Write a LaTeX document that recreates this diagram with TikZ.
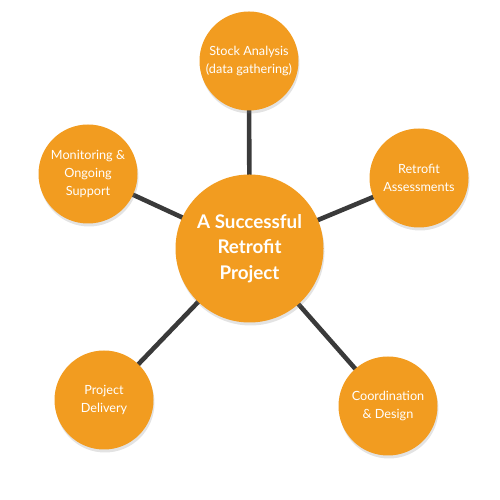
\documentclass[tikz,border=0pt]{standalone}
\usepackage{fontspec}
\setmainfont{Lato}
\usetikzlibrary{backgrounds,shadows}

\definecolor{retrofitorange}{HTML}{F29C20}
\definecolor{spokegray}{HTML}{3A3A3A}

\tikzstyle{hub} = [circle, fill=retrofitorange, minimum size=2.96cm, inner sep=0pt,
    text=white, align=center, font=\bfseries\fontsize{10.7}{14.5}\selectfont,
    drop shadow={opacity=0.22, shadow xshift=0.02cm, shadow yshift=-0.06cm}]
\tikzstyle{stage} = [circle, fill=retrofitorange, minimum size=1.98cm, inner sep=0pt,
    text=white, align=center, font=\fontsize{7.2}{10}\selectfont,
    drop shadow={opacity=0.22, shadow xshift=0.02cm, shadow yshift=-0.06cm}]
\tikzstyle{spoke} = [draw=spokegray, line width=2.6pt]

\begin{document}
\begin{tikzpicture}
\useasboundingbox (0,0) rectangle (10,10);
\node[hub] (project) at (4.99,5.03) {A Successful\\Retrofit\\Project};
\node[stage] (stock) at (4.98,8.78) {Stock Analysis\\(data gathering)};
\node[stage] (assess) at (8.38,6.44) {Retrofit\\Assessments};
\node[stage] (coord) at (7.76,1.88) {Coordination\\\& Design};
\node[stage] (delivery) at (2.08,2.0) {Project\\Delivery};
\node[stage] (monitor) at (1.76,6.52) {Monitoring \&\\Ongoing\\Support};
\begin{scope}[on background layer]
    \foreach \s in {stock, assess, coord, delivery, monitor}
        \draw[spoke] (project.center) -- (\s.center);
\end{scope}
\end{tikzpicture}
\end{document}
